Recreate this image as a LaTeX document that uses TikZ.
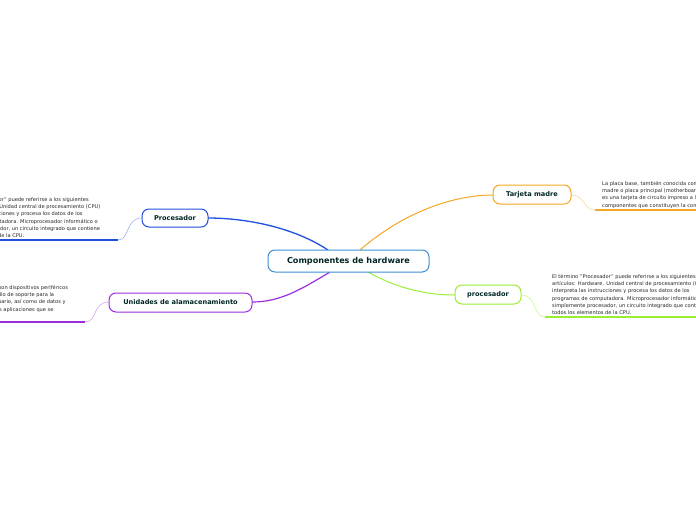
\documentclass[tikz,border=0pt]{standalone}
\usepackage{fontspec}
\setmainfont{DejaVu Sans}
\begin{document}
\begin{tikzpicture}[x=1pt,y=-1pt,
  topic/.style={draw=#1,line width=1pt,rounded corners=7pt,fill=white,font=\bfseries\fontsize{6.6}{8}\selectfont,text=black!70!teal,inner sep=0pt},
  body/.style={align=left,anchor=north west,font=\fontsize{5.1}{7.3}\selectfont,text=black!85,inner sep=0pt}]
\definecolor{cblue}{HTML}{1F4FE0}
\definecolor{corange}{HTML}{F5A623}
\definecolor{cgreen}{HTML}{99EE33}
\definecolor{cpurple}{HTML}{9B2FE0}
\definecolor{ccenter}{HTML}{3C8FD6}
\useasboundingbox (0,0) rectangle (696,520);
\clip (0,0) rectangle (696,520);
% body texts
\node[body] (t1) at (-55,197) {El término "Procesador" puede referirse a los siguientes\\artículos: Hardware. Unidad central de procesamiento (CPU)\\interpreta las instrucciones y procesa los datos de los\\programas de computadora. Microprocesador informático o\\simplemente procesador, un circuito integrado que contiene\\todos los elementos de la CPU.};
\node[body] (t2) at (-89,285) {Las unidades de almacenamiento son dispositivos periféricos\\del sistema, que actúan como medio de soporte para la\\grabación de los programas de usuario, así como de datos y\\ficheros que son manejados por las aplicaciones que se};
\node[body] (t3) at (602,181) {La placa base, también conocida como tarjeta\\madre o placa principal (motherboard en inglés),\\es una tarjeta de circuito impreso a la que se conectan los\\componentes que constituyen la computadora.};
\node[body] (t4) at (552,274) {El término "Procesador" puede referirse a los siguientes\\artículos: Hardware. Unidad central de procesamiento (CPU)\\interpreta las instrucciones y procesa los datos de los\\programas de computadora. Microprocesador informático o\\simplemente procesador, un circuito integrado que contiene\\todos los elementos de la CPU.};
% coordinates
\coordinate (e1) at (0,240); \coordinate (b1) at (118,240);
\coordinate (e2) at (0,322); \coordinate (b2) at (85,322);
\coordinate (e3) at (696,210); \coordinate (b3) at (595,210);
\coordinate (e4) at (696,317); \coordinate (b4) at (545,317);
\coordinate (c1) at (328,250); \coordinate (c2) at (360,250);
\coordinate (c3) at (368,272); \coordinate (c4) at (330,272);
% connectors
\draw[cblue,line width=1.3pt] (c1) .. controls (290,225) and (240,218) .. (208,218);
\draw[corange,line width=1pt] (c2) .. controls (400,215) and (450,195) .. (493,195);
\draw[cgreen,line width=1pt] (c3) .. controls (400,290) and (430,295) .. (455,295);
\draw[cpurple,line width=1.2pt] (c4) .. controls (300,290) and (280,302) .. (252,302);
\draw[cblue!50,line width=0.5pt] (142,218) .. controls (125,218) and (130,240) .. (b1);
\draw[cblue,line width=1.5pt] (b1) -- (e1);
\draw[cpurple!50,line width=0.5pt] (109,302) .. controls (92,302) and (98,322) .. (b2);
\draw[cpurple,line width=1.5pt] (b2) -- (e2);
\draw[corange!50,line width=0.5pt] (571,195) .. controls (585,195) and (583,210) .. (b3);
\draw[corange,line width=1.5pt] (b3) -- (e3);
\draw[cgreen!60,line width=0.5pt] (521,295) .. controls (537,295) and (533,317) .. (b4);
\draw[cgreen,line width=1.5pt] (b4) -- (e4);
% topic nodes
\node[topic=ccenter,minimum width=161pt,minimum height=22pt,font=\bfseries\fontsize{8.1}{9}\selectfont] (center) at (348.5,261) {Componentes de hardware};
\node[topic=corange,minimum width=78pt,minimum height=19pt] (tm) at (532,194.5) {Tarjeta madre};
\node[topic=cgreen,minimum width=66pt,minimum height=19pt] (p2) at (488,294.5) {procesador};
\node[topic=cblue,minimum width=66pt,minimum height=18pt] (p1) at (175,218) {Procesador};
\node[topic=cpurple,minimum width=143pt,minimum height=19pt] (ua) at (180.5,302.5) {Unidades de alamacenamiento};
\end{tikzpicture}
\end{document}
